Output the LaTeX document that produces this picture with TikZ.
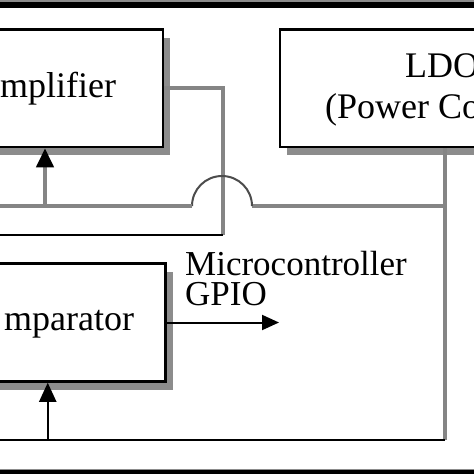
\documentclass[tikz,border=0pt]{standalone}
\usepackage{fontspec}
\setmainfont{Liberation Serif}
\usetikzlibrary{arrows.meta,shadows}
\definecolor{wiregray}{HTML}{858585}
\definecolor{shadegray}{HTML}{8C8C8C}

\begin{document}
\begin{tikzpicture}[x=1pt, y=-1pt,
  box/.style={rectangle, draw, line width=2.5pt, fill=white,
              drop shadow={shadow xshift=7pt, shadow yshift=-8pt,
                           fill=shadegray, opacity=1}},
  boxtext/.style={anchor=base west, inner sep=0pt,
                  font=\fontsize{36}{43}\selectfont},
  pintext/.style={anchor=base west, inner sep=0pt, align=left,
                  font=\fontsize{35}{30}\selectfont},
  feed/.style={draw=wiregray, line width=4pt},
  signal/.style={draw=black, line width=2pt},
  hop/.style={draw=black!70, line width=2pt},
  arrow/.style={-{Triangle[length=19pt, width=17pt, black]}}
]
  \useasboundingbox (0,0) rectangle (474,474);
  \clip (0,0) rectangle (474,474);

  \node[box, minimum width=236pt, minimum height=117.5pt] (amp) at (45,88.25) {};
  \node[box, minimum width=235.5pt, minimum height=118pt] (cmp) at (47.75,322.5) {};
  \node[box, minimum width=324pt, minimum height=117.5pt] (ldo) at (442,88.25) {};

  \node[boxtext] (amptext) at (0,97) {mplifier};
  \node[boxtext] (cmptext) at (4,330) {mparator};
  \node[boxtext] (ldotext) at (405,77) {LDO};
  \node[boxtext] (ldosub) at (325,118) {(Power Co};
  \node[pintext] (mcutext) at (185,305) {Microcontroller\\GPIO};

  \coordinate (ldoout) at ([xshift=3pt]ldo.south);
  \coordinate (ldocorner) at (ldoout |- 0,440);
  \coordinate (railleft) at (0,206);
  \coordinate (backleft) at (0,235);
  \coordinate (gndleft) at (0,440);
  \coordinate (ampback) at (223,235);
  \coordinate (hopright) at (252,206);
  \coordinate (hopleft) at (192,206);
  \coordinate (gpioend) at (279,322.5);

  \draw[feed] (amp.east) -| (ampback);
  \draw[signal] (ampback) -- (backleft);
  \draw[feed] (ldoout) -- (ldocorner);
  \draw[signal] (ldocorner) -- (gndleft);
  \draw[feed] (ldoout |- railleft) -- (hopright);
  \draw[hop] (hopright) arc[start angle=0, end angle=180, radius=30pt];
  \draw[feed] (hopleft) -- (railleft);
  \draw[feed, arrow] (amp.south |- railleft) -- (amp.south);
  \draw[signal, arrow] (cmp.south |- gndleft) -- (cmp.south);
  \draw[signal, -{Triangle[length=17pt, width=15pt]}] (cmp.east) -- (gpioend);

  \fill[shadegray] (0,0) rectangle (474,2);
  \fill[black] (0,2) rectangle (474,7.5);
  \fill[shadegray] (0,468.5) rectangle (474,470);
  \fill[black] (0,470) rectangle (474,474);
\end{tikzpicture}
\end{document}
